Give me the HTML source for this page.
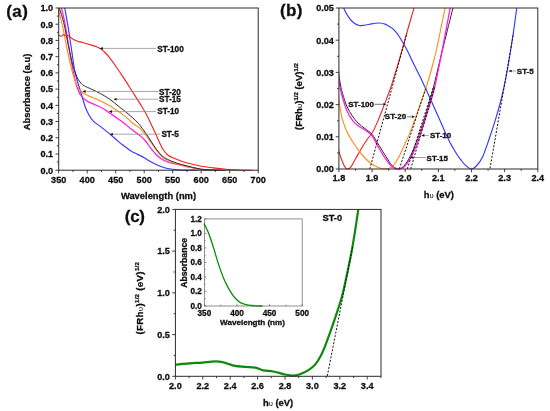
<!DOCTYPE html>
<html><head><meta charset="utf-8"><title>Figure</title>
<style>
html,body{margin:0;padding:0;background:#fff;}
svg{display:block;}
svg text{font-family:"Liberation Sans",sans-serif;fill:#0c0c0c;stroke:#0c0c0c;stroke-width:0.28px;}
</style></head>
<body>
<svg width="550" height="411" viewBox="0 0 550 411">
<defs><filter id="soft" x="0" y="0" width="550" height="411" filterUnits="userSpaceOnUse"><feGaussianBlur stdDeviation="0.38"/></filter></defs>
<rect width="550" height="411" fill="#fff"/>
<g filter="url(#soft)">
<g id="pa">
<clipPath id="ca"><rect x="58.7" y="8.0" width="199.5" height="163.2"/></clipPath>
<g clip-path="url(#ca)">
<path d="M63.80,2.00 C63.97,3.05 64.08,4.15 64.80,8.30 C65.52,12.45 67.00,20.17 68.10,26.90 C69.20,33.63 70.30,41.42 71.40,48.70 C72.50,55.98 73.63,64.97 74.70,70.60 C75.77,76.23 76.67,78.52 77.80,82.50 C78.93,86.48 80.28,90.50 81.50,94.50 C82.72,98.50 83.88,103.13 85.10,106.50 C86.32,109.87 87.43,112.27 88.80,114.70 C90.17,117.13 91.33,119.12 93.30,121.10 C95.27,123.08 97.87,124.47 100.60,126.60 C103.33,128.73 106.97,131.62 109.70,133.90 C112.43,136.18 114.87,138.48 117.00,140.30 C119.13,142.12 120.17,143.02 122.50,144.80 C124.83,146.58 128.83,149.58 131.00,151.00 C133.17,152.42 134.00,152.55 135.50,153.30 C137.00,154.05 138.55,154.77 140.00,155.50 C141.45,156.23 142.70,156.83 144.20,157.70 C145.70,158.57 147.43,159.78 149.00,160.70 C150.57,161.62 152.02,162.40 153.60,163.20 C155.18,164.00 156.92,164.83 158.50,165.50 C160.08,166.17 161.52,166.70 163.10,167.20 C164.68,167.70 166.43,168.15 168.00,168.50 C169.57,168.85 170.83,169.08 172.50,169.30 C174.17,169.52 176.02,169.67 178.00,169.80 C179.98,169.93 181.23,170.03 184.40,170.10 C187.57,170.17 194.90,170.18 197.00,170.20" stroke="#3636ff" stroke-width="1.15" fill="none" stroke-linejoin="round" stroke-linecap="round" />
<path d="M60.60,2.00 C60.77,3.05 60.90,4.88 61.60,8.30 C62.30,11.72 63.72,16.85 64.80,22.50 C65.88,28.15 67.00,35.65 68.10,42.20 C69.20,48.75 70.12,55.00 71.40,61.80 C72.68,68.60 74.70,78.38 75.80,83.00 C76.90,87.62 77.22,87.50 78.00,89.50 C78.78,91.50 79.02,93.08 80.50,95.00 C81.98,96.92 84.47,99.38 86.90,101.00 C89.33,102.62 92.20,103.33 95.10,104.70 C98.00,106.07 101.25,107.38 104.30,109.20 C107.35,111.02 110.37,113.47 113.40,115.60 C116.43,117.73 119.47,119.72 122.50,122.00 C125.53,124.28 128.68,127.03 131.60,129.30 C134.52,131.57 137.68,133.65 140.00,135.60 C142.32,137.55 143.68,138.87 145.50,141.00 C147.32,143.13 149.08,146.12 150.90,148.40 C152.72,150.68 154.57,152.88 156.40,154.70 C158.23,156.52 160.07,158.08 161.90,159.30 C163.73,160.52 164.97,161.18 167.40,162.00 C169.83,162.82 173.17,163.40 176.50,164.20 C179.83,165.00 183.48,165.95 187.40,166.80 C191.32,167.65 196.40,168.77 200.00,169.30 C203.60,169.83 205.67,169.85 209.00,170.00 C212.33,170.15 218.17,170.17 220.00,170.20" stroke="#ff14e6" stroke-width="1.2" fill="none" stroke-linejoin="round" stroke-linecap="round" />
<path d="M57.00,2.00 C57.22,3.05 57.35,4.15 58.30,8.30 C59.25,12.45 61.25,20.17 62.70,26.90 C64.15,33.63 65.55,41.78 67.00,48.70 C68.45,55.62 70.05,63.03 71.40,68.40 C72.75,73.77 74.08,77.88 75.10,80.90 C76.12,83.92 76.60,84.82 77.50,86.50 C78.40,88.18 78.78,89.50 80.50,91.00 C82.22,92.50 85.05,94.13 87.80,95.50 C90.55,96.87 93.95,97.82 97.00,99.20 C100.05,100.58 103.07,102.13 106.10,103.80 C109.13,105.47 112.17,107.23 115.20,109.20 C118.23,111.17 121.25,113.17 124.30,115.60 C127.35,118.03 130.88,121.68 133.50,123.80 C136.12,125.92 138.00,126.48 140.00,128.30 C142.00,130.12 143.68,132.37 145.50,134.70 C147.32,137.03 149.08,139.72 150.90,142.30 C152.72,144.88 154.57,147.82 156.40,150.20 C158.23,152.58 160.07,154.93 161.90,156.60 C163.73,158.27 164.97,158.98 167.40,160.20 C169.83,161.42 173.17,162.83 176.50,163.90 C179.83,164.97 183.45,165.70 187.40,166.60 C191.35,167.50 196.60,168.73 200.20,169.30 C203.80,169.87 205.70,169.85 209.00,170.00 C212.30,170.15 218.17,170.17 220.00,170.20" stroke="#ff8a1a" stroke-width="1.1" fill="none" stroke-linejoin="round" stroke-linecap="round" />
<path d="M58.00,2.00 C58.23,3.05 58.45,4.88 59.40,8.30 C60.35,11.72 62.25,16.50 63.70,22.50 C65.15,28.50 66.63,37.38 68.10,44.30 C69.57,51.22 71.43,59.63 72.50,64.00 C73.57,68.37 73.75,68.33 74.50,70.50 C75.25,72.67 76.08,75.08 77.00,77.00 C77.92,78.92 78.83,80.55 80.00,82.00 C81.17,83.45 82.08,84.50 84.00,85.70 C85.92,86.90 88.73,87.87 91.50,89.20 C94.27,90.53 97.57,92.03 100.60,93.70 C103.63,95.37 106.65,97.07 109.70,99.20 C112.75,101.33 115.85,104.07 118.90,106.50 C121.95,108.93 124.97,111.22 128.00,113.80 C131.03,116.38 135.10,120.05 137.10,122.00 C139.10,123.95 138.60,123.70 140.00,125.50 C141.40,127.30 143.68,130.22 145.50,132.80 C147.32,135.38 149.08,138.25 150.90,141.00 C152.72,143.75 154.57,146.85 156.40,149.30 C158.23,151.75 160.07,154.03 161.90,155.70 C163.73,157.37 164.97,158.08 167.40,159.30 C169.83,160.52 173.17,161.88 176.50,163.00 C179.83,164.12 183.45,165.00 187.40,166.00 C191.35,167.00 195.93,168.33 200.20,169.00 C204.47,169.67 208.87,169.80 213.00,170.00 C217.13,170.20 223.00,170.17 225.00,170.20" stroke="#2a2a2a" stroke-width="1.0" fill="none" stroke-linejoin="round" stroke-linecap="round" />
<path d="M58.80,35.10 C59.23,35.32 60.67,36.47 61.40,36.40 C62.13,36.33 62.52,34.90 63.20,34.70 C63.88,34.50 64.58,34.98 65.50,35.20 C66.42,35.42 67.62,35.45 68.70,36.00 C69.78,36.55 70.63,37.67 72.00,38.50 C73.37,39.33 75.15,40.33 76.90,41.00 C78.65,41.67 80.07,41.82 82.50,42.50 C84.93,43.18 89.25,44.43 91.50,45.10 C93.75,45.77 94.48,45.88 96.00,46.50 C97.52,47.12 99.10,47.80 100.60,48.80 C102.10,49.80 103.48,50.98 105.00,52.50 C106.52,54.02 107.70,55.32 109.70,57.90 C111.70,60.48 114.57,64.50 117.00,68.00 C119.43,71.50 121.80,75.07 124.30,78.90 C126.80,82.73 129.38,86.88 132.00,91.00 C134.62,95.12 137.75,99.97 140.00,103.60 C142.25,107.23 143.68,109.45 145.50,112.80 C147.32,116.15 149.23,120.25 150.90,123.70 C152.57,127.15 153.67,129.55 155.50,133.50 C157.33,137.45 159.92,143.87 161.90,147.40 C163.88,150.93 164.97,152.72 167.40,154.70 C169.83,156.68 173.17,157.92 176.50,159.30 C179.83,160.68 183.45,161.88 187.40,163.00 C191.35,164.12 195.93,165.18 200.20,166.00 C204.47,166.82 208.73,167.35 213.00,167.90 C217.27,168.45 221.30,168.95 225.80,169.30 C230.30,169.65 235.63,169.85 240.00,170.00 C244.37,170.15 250.00,170.17 252.00,170.20" stroke="#f02020" stroke-width="1.1" fill="none" stroke-linejoin="round" stroke-linecap="round" />
</g>
<rect x="58.7" y="8.0" width="199.50" height="162.20" fill="none" stroke="#2b2b2b" stroke-width="1.0"/>
<path d="M58.70,170.2v3.2M87.20,170.2v3.2M115.70,170.2v3.2M144.20,170.2v3.2M172.70,170.2v3.2M201.20,170.2v3.2M229.70,170.2v3.2M258.20,170.2v3.2" stroke="#2b2b2b" stroke-width="0.9" fill="none"/>
<path d="M72.95,170.2v1.8M101.45,170.2v1.8M129.95,170.2v1.8M158.45,170.2v1.8M186.95,170.2v1.8M215.45,170.2v1.8M243.95,170.2v1.8" stroke="#2b2b2b" stroke-width="0.9" fill="none"/>
<path d="M58.7,170.20h-3.2M58.7,153.98h-3.2M58.7,137.76h-3.2M58.7,121.54h-3.2M58.7,105.32h-3.2M58.7,89.10h-3.2M58.7,72.88h-3.2M58.7,56.66h-3.2M58.7,40.44h-3.2M58.7,24.22h-3.2M58.7,8.00h-3.2" stroke="#2b2b2b" stroke-width="0.9" fill="none"/>
<path d="M58.7,162.09h-1.8M58.7,145.87h-1.8M58.7,129.65h-1.8M58.7,113.43h-1.8M58.7,97.21h-1.8M58.7,80.99h-1.8M58.7,64.77h-1.8M58.7,48.55h-1.8M58.7,32.33h-1.8M58.7,16.11h-1.8" stroke="#2b2b2b" stroke-width="0.9" fill="none"/>
<text x="58.70" y="183.00" font-size="9.1" text-anchor="middle" font-weight="bold" >350</text>
<text x="87.20" y="183.00" font-size="9.1" text-anchor="middle" font-weight="bold" >400</text>
<text x="115.70" y="183.00" font-size="9.1" text-anchor="middle" font-weight="bold" >450</text>
<text x="144.20" y="183.00" font-size="9.1" text-anchor="middle" font-weight="bold" >500</text>
<text x="172.70" y="183.00" font-size="9.1" text-anchor="middle" font-weight="bold" >550</text>
<text x="201.20" y="183.00" font-size="9.1" text-anchor="middle" font-weight="bold" >600</text>
<text x="229.70" y="183.00" font-size="9.1" text-anchor="middle" font-weight="bold" >650</text>
<text x="258.20" y="183.00" font-size="9.1" text-anchor="middle" font-weight="bold" >700</text>
<text x="53.20" y="173.50" font-size="9.1" text-anchor="end" font-weight="bold" >0.0</text>
<text x="53.20" y="157.28" font-size="9.1" text-anchor="end" font-weight="bold" >0.1</text>
<text x="53.20" y="141.06" font-size="9.1" text-anchor="end" font-weight="bold" >0.2</text>
<text x="53.20" y="124.84" font-size="9.1" text-anchor="end" font-weight="bold" >0.3</text>
<text x="53.20" y="108.62" font-size="9.1" text-anchor="end" font-weight="bold" >0.4</text>
<text x="53.20" y="92.40" font-size="9.1" text-anchor="end" font-weight="bold" >0.5</text>
<text x="53.20" y="76.18" font-size="9.1" text-anchor="end" font-weight="bold" >0.6</text>
<text x="53.20" y="59.96" font-size="9.1" text-anchor="end" font-weight="bold" >0.7</text>
<text x="53.20" y="43.74" font-size="9.1" text-anchor="end" font-weight="bold" >0.8</text>
<text x="53.20" y="27.52" font-size="9.1" text-anchor="end" font-weight="bold" >0.9</text>
<text x="53.20" y="11.30" font-size="9.1" text-anchor="end" font-weight="bold" >1.0</text>
<text x="158.50" y="198.60" font-size="9.4" text-anchor="middle" font-weight="bold" >Wavelength (nm)</text>
<text transform="translate(29.8,92) rotate(-90)" font-size="9.4" text-anchor="middle" font-weight="bold">Absorbance (a.u)</text>
<line x1="100.7" y1="48.4" x2="156" y2="48.4" stroke="#909090" stroke-width="0.8"/>
<path d="M99.7,48.4 l3.2,-1.3 v2.6 z" fill="#111"/>
<text x="157.30" y="52.40" font-size="8.2" text-anchor="start" font-weight="bold" >ST-100</text>
<line x1="83.4" y1="91.4" x2="158" y2="91.4" stroke="#909090" stroke-width="0.8"/>
<path d="M82.4,91.4 l3.2,-1.3 v2.6 z" fill="#111"/>
<text x="159.00" y="94.60" font-size="8.2" text-anchor="start" font-weight="bold" >ST-20</text>
<line x1="114.4" y1="99.2" x2="158" y2="99.2" stroke="#909090" stroke-width="0.8"/>
<path d="M113.4,99.2 l3.2,-1.3 v2.6 z" fill="#111"/>
<text x="159.00" y="102.30" font-size="8.2" text-anchor="start" font-weight="bold" >ST-15</text>
<line x1="109.8" y1="111.6" x2="156" y2="111.6" stroke="#909090" stroke-width="0.8"/>
<path d="M108.8,111.6 l3.2,-1.3 v2.6 z" fill="#111"/>
<text x="157.30" y="114.40" font-size="8.2" text-anchor="start" font-weight="bold" >ST-10</text>
<line x1="110.7" y1="134.2" x2="160" y2="134.2" stroke="#909090" stroke-width="0.8"/>
<path d="M109.7,134.2 l3.2,-1.3 v2.6 z" fill="#111"/>
<text x="161.40" y="136.60" font-size="8.2" text-anchor="start" font-weight="bold" >ST-5</text>
</g>
<g id="pb">
<clipPath id="cb"><rect x="338.9" y="8.0" width="198.89999999999998" height="162.0"/></clipPath>
<g clip-path="url(#cb)">
<path d="M341.50,1.00 C341.83,2.12 342.23,4.88 343.50,7.70 C344.77,10.52 347.35,15.35 349.10,17.90 C350.85,20.45 352.30,21.73 354.00,23.00 C355.70,24.27 357.63,25.13 359.30,25.50 C360.97,25.87 362.30,25.40 364.00,25.20 C365.70,25.00 367.67,24.62 369.50,24.30 C371.33,23.98 373.28,23.52 375.00,23.30 C376.72,23.08 378.13,22.87 379.80,23.00 C381.47,23.13 383.38,23.52 385.00,24.10 C386.62,24.68 388.03,25.58 389.50,26.50 C390.97,27.42 392.30,28.10 393.80,29.60 C395.30,31.10 396.87,33.13 398.50,35.50 C400.13,37.87 401.93,40.88 403.60,43.80 C405.27,46.72 406.85,49.70 408.50,53.00 C410.15,56.30 411.67,59.85 413.50,63.60 C415.33,67.35 417.58,71.57 419.50,75.50 C421.42,79.43 423.08,83.07 425.00,87.20 C426.92,91.33 428.53,94.83 431.00,100.30 C433.47,105.77 436.87,113.42 439.80,120.00 C442.73,126.58 446.33,135.05 448.60,139.80 C450.87,144.55 451.95,145.97 453.40,148.50 C454.85,151.03 456.02,153.05 457.30,155.00 C458.58,156.95 459.62,158.37 461.10,160.20 C462.58,162.03 464.50,164.53 466.20,166.00 C467.90,167.47 469.60,169.00 471.30,169.00 C473.00,169.00 474.48,168.10 476.40,166.00 C478.32,163.90 480.67,160.93 482.80,156.40 C484.93,151.87 487.07,145.00 489.20,138.80 C491.33,132.60 493.55,126.00 495.60,119.20 C497.65,112.40 499.58,105.95 501.50,98.00 C503.42,90.05 505.18,82.00 507.10,71.50 C509.02,61.00 511.38,45.63 513.00,35.00 C514.62,24.37 516.00,13.37 516.80,7.70 C517.60,2.03 517.63,2.12 517.80,1.00" stroke="#3636ff" stroke-width="1.15" fill="none" stroke-linejoin="round" stroke-linecap="round" />
<path d="M337.50,145.00 C337.78,146.23 338.35,149.53 339.20,152.40 C340.05,155.27 341.57,159.67 342.60,162.20 C343.63,164.73 344.50,166.47 345.40,167.60 C346.30,168.73 347.03,169.20 348.00,169.00 C348.97,168.80 349.92,168.15 351.20,166.40 C352.48,164.65 353.97,161.53 355.70,158.50 C357.43,155.47 359.73,151.32 361.60,148.20 C363.47,145.08 365.13,142.37 366.90,139.80 C368.67,137.23 370.42,135.83 372.20,132.80 C373.98,129.77 375.77,125.80 377.60,121.60 C379.43,117.40 381.33,112.37 383.20,107.60 C385.07,102.83 387.40,96.77 388.80,93.00 C390.20,89.23 390.50,88.42 391.60,85.00 C392.70,81.58 394.10,76.75 395.40,72.50 C396.70,68.25 397.43,66.33 399.40,59.50 C401.37,52.67 404.78,40.03 407.20,31.50 C409.62,22.97 412.43,13.38 413.90,8.30 C415.37,3.22 415.65,2.22 416.00,1.00" stroke="#f02020" stroke-width="1.1" fill="none" stroke-linejoin="round" stroke-linecap="round" />
<path d="M338.20,92.00 C338.37,93.67 338.77,98.67 339.20,102.00 C339.63,105.33 340.23,108.97 340.80,112.00 C341.37,115.03 341.60,116.97 342.60,120.20 C343.60,123.43 345.17,127.90 346.80,131.40 C348.43,134.90 350.53,138.17 352.40,141.20 C354.27,144.23 355.90,146.80 358.00,149.60 C360.10,152.40 362.67,155.57 365.00,158.00 C367.33,160.43 369.67,162.57 372.00,164.20 C374.33,165.83 377.13,167.05 379.00,167.80 C380.87,168.55 381.65,168.57 383.20,168.70 C384.75,168.83 387.00,168.82 388.30,168.60 C389.60,168.38 390.08,168.00 391.00,167.40 C391.92,166.80 392.43,166.85 393.80,165.00 C395.17,163.15 397.38,159.77 399.20,156.30 C401.02,152.83 403.05,147.75 404.70,144.20 C406.35,140.65 407.70,138.28 409.10,135.00 C410.50,131.72 411.27,129.58 413.10,124.50 C414.93,119.42 417.85,110.92 420.10,104.50 C422.35,98.08 424.65,92.08 426.60,86.00 C428.55,79.92 430.17,74.00 431.80,68.00 C433.43,62.00 434.60,58.00 436.40,50.00 C438.20,42.00 441.15,26.95 442.60,20.00 C444.05,13.05 444.43,11.47 445.10,8.30 C445.77,5.13 446.35,2.22 446.60,1.00" stroke="#ff8a1a" stroke-width="1.1" fill="none" stroke-linejoin="round" stroke-linecap="round" />
<path d="M338.40,68.00 C338.53,69.47 338.82,73.80 339.20,76.80 C339.58,79.80 340.13,83.20 340.70,86.00 C341.27,88.80 341.58,90.23 342.60,93.60 C343.62,96.97 345.17,102.47 346.80,106.20 C348.43,109.93 350.53,113.20 352.40,116.00 C354.27,118.80 355.90,120.90 358.00,123.00 C360.10,125.10 362.67,126.73 365.00,128.60 C367.33,130.47 369.67,131.40 372.00,134.20 C374.33,137.00 376.67,141.67 379.00,145.40 C381.33,149.13 383.90,153.33 386.00,156.60 C388.10,159.87 390.02,163.10 391.60,165.00 C393.18,166.90 394.23,167.35 395.50,168.00 C396.77,168.65 398.12,168.97 399.20,168.90 C400.28,168.83 401.08,168.25 402.00,167.60 C402.92,166.95 403.52,166.53 404.70,165.00 C405.88,163.47 407.82,160.58 409.10,158.40 C410.38,156.22 411.32,154.27 412.40,151.90 C413.48,149.53 414.52,146.93 415.60,144.20 C416.68,141.47 417.37,139.95 418.90,135.50 C420.43,131.05 422.92,123.42 424.80,117.50 C426.68,111.58 428.67,105.42 430.20,100.00 C431.73,94.58 431.83,93.83 434.00,85.00 C436.17,76.17 440.05,59.78 443.20,47.00 C446.35,34.22 450.97,15.97 452.90,8.30 C454.83,0.63 454.48,2.22 454.80,1.00" stroke="#2a2a2a" stroke-width="1.0" fill="none" stroke-linejoin="round" stroke-linecap="round" />
<path d="M338.40,74.00 C338.53,75.40 338.82,79.65 339.20,82.40 C339.58,85.15 340.13,87.93 340.70,90.50 C341.27,93.07 341.58,94.48 342.60,97.80 C343.62,101.12 345.17,106.67 346.80,110.40 C348.43,114.13 350.53,117.63 352.40,120.20 C354.27,122.77 355.90,124.17 358.00,125.80 C360.10,127.43 362.67,128.37 365.00,130.00 C367.33,131.63 369.67,132.57 372.00,135.60 C374.33,138.63 376.67,144.23 379.00,148.20 C381.33,152.17 383.90,156.37 386.00,159.40 C388.10,162.43 390.10,164.87 391.60,166.40 C393.10,167.93 393.90,168.17 395.00,168.60 C396.10,169.03 396.95,169.10 398.20,169.00 C399.45,168.90 401.23,168.67 402.50,168.00 C403.77,167.33 404.52,166.60 405.80,165.00 C407.08,163.40 408.88,160.58 410.20,158.40 C411.52,156.22 412.58,154.27 413.70,151.90 C414.82,149.53 415.85,146.93 416.90,144.20 C417.95,141.47 418.52,139.95 420.00,135.50 C421.48,131.05 423.93,123.42 425.80,117.50 C427.67,111.58 429.67,105.23 431.20,100.00 C432.73,94.77 433.07,94.93 435.00,86.10 C436.93,77.27 440.28,59.97 442.80,47.00 C445.32,34.03 448.65,15.97 450.10,8.30 C451.55,0.63 451.27,2.22 451.50,1.00" stroke="#ff14e6" stroke-width="1.25" fill="none" stroke-linejoin="round" stroke-linecap="round" />
<line x1="369.8" y1="169" x2="407.0" y2="33" stroke="#111" stroke-width="1.0" stroke-dasharray="2,1.6"/>
<line x1="399.3" y1="168.9" x2="425.8" y2="88.3" stroke="#111" stroke-width="1.0" stroke-dasharray="2,1.6"/>
<line x1="407.3" y1="168.9" x2="433.8" y2="86" stroke="#111" stroke-width="1.0" stroke-dasharray="2,1.6"/>
<line x1="410.7" y1="168.9" x2="435.0" y2="86" stroke="#111" stroke-width="1.0" stroke-dasharray="2,1.6"/>
<line x1="490.0" y1="168.5" x2="513.5" y2="33.2" stroke="#111" stroke-width="1.0" stroke-dasharray="2,1.6"/>
</g>
<rect x="338.9" y="8.0" width="198.90" height="161.00" fill="none" stroke="#2b2b2b" stroke-width="1.0"/>
<path d="M338.90,169.0v3.2M372.05,169.0v3.2M405.20,169.0v3.2M438.35,169.0v3.2M471.50,169.0v3.2M504.65,169.0v3.2M537.80,169.0v3.2" stroke="#2b2b2b" stroke-width="0.9" fill="none"/>
<path d="M355.47,169.0v1.8M388.62,169.0v1.8M421.77,169.0v1.8M454.92,169.0v1.8M488.07,169.0v1.8M521.22,169.0v1.8" stroke="#2b2b2b" stroke-width="0.9" fill="none"/>
<path d="M338.9,169.00h-3.2M338.9,136.80h-3.2M338.9,104.60h-3.2M338.9,72.40h-3.2M338.9,40.20h-3.2M338.9,8.00h-3.2" stroke="#2b2b2b" stroke-width="0.9" fill="none"/>
<path d="M338.9,152.90h-1.8M338.9,120.70h-1.8M338.9,88.50h-1.8M338.9,56.30h-1.8M338.9,24.10h-1.8" stroke="#2b2b2b" stroke-width="0.9" fill="none"/>
<text x="338.90" y="180.60" font-size="9.1" text-anchor="middle" font-weight="bold" >1.8</text>
<text x="372.05" y="180.60" font-size="9.1" text-anchor="middle" font-weight="bold" >1.9</text>
<text x="405.20" y="180.60" font-size="9.1" text-anchor="middle" font-weight="bold" >2.0</text>
<text x="438.35" y="180.60" font-size="9.1" text-anchor="middle" font-weight="bold" >2.1</text>
<text x="471.50" y="180.60" font-size="9.1" text-anchor="middle" font-weight="bold" >2.2</text>
<text x="504.65" y="180.60" font-size="9.1" text-anchor="middle" font-weight="bold" >2.3</text>
<text x="537.80" y="180.60" font-size="9.1" text-anchor="middle" font-weight="bold" >2.4</text>
<text x="333.90" y="172.30" font-size="9.1" text-anchor="end" font-weight="bold" >0.00</text>
<text x="333.90" y="140.10" font-size="9.1" text-anchor="end" font-weight="bold" >0.01</text>
<text x="333.90" y="107.90" font-size="9.1" text-anchor="end" font-weight="bold" >0.02</text>
<text x="333.90" y="75.70" font-size="9.1" text-anchor="end" font-weight="bold" >0.03</text>
<text x="333.90" y="43.50" font-size="9.1" text-anchor="end" font-weight="bold" >0.04</text>
<text x="333.90" y="11.30" font-size="9.1" text-anchor="end" font-weight="bold" >0.05</text>
<text x="438.8" y="198.0" font-size="9.4" text-anchor="middle" font-weight="bold">h<tspan font-weight="normal" stroke-width="0" font-size="7.6">υ</tspan> (eV)</text>
<text transform="translate(302.1,96.5) rotate(-90)" font-size="9.6" text-anchor="middle" font-weight="bold">(FRh<tspan font-weight="normal" stroke-width="0" font-size="7.8">υ</tspan>)<tspan dy="-3.9" font-size="6">1/2</tspan><tspan dy="3.9"> (eV)</tspan><tspan dy="-3.9" font-size="6">1/2</tspan></text>
<text x="374.00" y="107.30" font-size="8" text-anchor="end" font-weight="bold" >ST-100</text>
<line x1="374.5" y1="104.3" x2="383" y2="104.3" stroke="#555" stroke-width="0.8"/><path d="M386.5,104.3 l-3.2,-1.3 v2.6 z" fill="#111"/>
<text x="384.80" y="119.10" font-size="8" text-anchor="start" font-weight="bold" >ST-20</text>
<line x1="407" y1="116.8" x2="411.5" y2="116.8" stroke="#555" stroke-width="0.8"/><path d="M415,116.8 l-3.2,-1.3 v2.6 z" fill="#111"/>
<line x1="422.2" y1="135.4" x2="429" y2="135.4" stroke="#909090" stroke-width="0.8"/>
<path d="M421.2,135.4 l3.2,-1.3 v2.6 z" fill="#111"/>
<text x="429.90" y="138.30" font-size="8" text-anchor="start" font-weight="bold" >ST-10</text>
<line x1="411.2" y1="157.5" x2="425.8" y2="157.5" stroke="#888" stroke-width="0.8"/>
<path d="M410.2,157.5 l3.2,-1.3 v2.6 z" fill="#111"/>
<text x="426.60" y="160.80" font-size="8" text-anchor="start" font-weight="bold" >ST-15</text>
<line x1="509.4" y1="71" x2="516" y2="71" stroke="#909090" stroke-width="0.8"/>
<path d="M508.4,71 l3.2,-1.3 v2.6 z" fill="#111"/>
<text x="516.80" y="73.90" font-size="8" text-anchor="start" font-weight="bold" >ST-5</text>
</g>
<g id="pc">
<clipPath id="cc"><rect x="175.4" y="209.4" width="205.6" height="168.9"/></clipPath>
<g clip-path="url(#cc)">
<path d="M173.00,364.80 C173.40,364.77 172.67,364.83 175.40,364.60 C178.13,364.37 184.93,363.73 189.40,363.40 C193.87,363.07 198.85,362.85 202.20,362.60 C205.55,362.35 207.17,362.10 209.50,361.90 C211.83,361.70 214.03,361.35 216.20,361.40 C218.37,361.45 220.58,361.82 222.50,362.20 C224.42,362.58 225.62,363.08 227.70,363.70 C229.78,364.32 232.08,365.37 235.00,365.90 C237.92,366.43 241.80,366.60 245.20,366.90 C248.60,367.20 252.42,367.13 255.40,367.70 C258.38,368.27 260.12,369.67 263.10,370.30 C266.08,370.93 269.90,370.87 273.30,371.50 C276.70,372.13 280.30,373.42 283.50,374.10 C286.70,374.78 289.75,375.57 292.50,375.60 C295.25,375.63 297.28,375.25 300.00,374.30 C302.72,373.35 306.25,371.55 308.80,369.90 C311.35,368.25 313.30,366.77 315.30,364.40 C317.30,362.03 319.15,358.80 320.80,355.70 C322.45,352.60 323.73,349.45 325.20,345.80 C326.67,342.15 328.15,337.82 329.60,333.80 C331.05,329.78 332.47,325.90 333.90,321.70 C335.33,317.50 336.88,312.72 338.20,308.60 C339.52,304.48 340.67,301.18 341.80,297.00 C342.93,292.82 343.92,288.33 345.00,283.50 C346.08,278.67 347.18,273.42 348.30,268.00 C349.42,262.58 350.58,257.12 351.70,251.00 C352.82,244.88 353.90,238.23 355.00,231.30 C356.10,224.37 357.55,214.45 358.30,209.40 C359.05,204.35 359.30,202.40 359.50,201.00" stroke="#0c8a0c" stroke-width="2.2" fill="none" stroke-linejoin="round" stroke-linecap="round" />
<line x1="327.3" y1="376" x2="352.6" y2="247" stroke="#111" stroke-width="1.0" stroke-dasharray="2,1.6"/>
</g>
<rect x="175.4" y="209.4" width="205.60" height="166.90" fill="none" stroke="#2b2b2b" stroke-width="1.0"/>
<path d="M175.40,376.3v3.2M202.80,376.3v3.2M230.20,376.3v3.2M257.60,376.3v3.2M285.00,376.3v3.2M312.40,376.3v3.2M339.80,376.3v3.2M367.20,376.3v3.2" stroke="#2b2b2b" stroke-width="0.9" fill="none"/>
<path d="M189.10,376.3v1.8M216.50,376.3v1.8M243.90,376.3v1.8M271.30,376.3v1.8M298.70,376.3v1.8M326.10,376.3v1.8M353.50,376.3v1.8M380.90,376.3v1.8" stroke="#2b2b2b" stroke-width="0.9" fill="none"/>
<path d="M175.4,376.30h-3.2M175.4,334.57h-3.2M175.4,292.85h-3.2M175.4,251.12h-3.2M175.4,209.40h-3.2" stroke="#2b2b2b" stroke-width="0.9" fill="none"/>
<path d="M175.4,355.44h-1.8M175.4,313.71h-1.8M175.4,271.99h-1.8M175.4,230.26h-1.8" stroke="#2b2b2b" stroke-width="0.9" fill="none"/>
<text x="175.40" y="389.20" font-size="9.1" text-anchor="middle" font-weight="bold" >2.0</text>
<text x="202.80" y="389.20" font-size="9.1" text-anchor="middle" font-weight="bold" >2.2</text>
<text x="230.20" y="389.20" font-size="9.1" text-anchor="middle" font-weight="bold" >2.4</text>
<text x="257.60" y="389.20" font-size="9.1" text-anchor="middle" font-weight="bold" >2.6</text>
<text x="285.00" y="389.20" font-size="9.1" text-anchor="middle" font-weight="bold" >2.8</text>
<text x="312.40" y="389.20" font-size="9.1" text-anchor="middle" font-weight="bold" >3.0</text>
<text x="339.80" y="389.20" font-size="9.1" text-anchor="middle" font-weight="bold" >3.2</text>
<text x="367.20" y="389.20" font-size="9.1" text-anchor="middle" font-weight="bold" >3.4</text>
<text x="169.90" y="379.60" font-size="9.1" text-anchor="end" font-weight="bold" >0.0</text>
<text x="169.90" y="337.88" font-size="9.1" text-anchor="end" font-weight="bold" >0.5</text>
<text x="169.90" y="296.15" font-size="9.1" text-anchor="end" font-weight="bold" >1.0</text>
<text x="169.90" y="254.43" font-size="9.1" text-anchor="end" font-weight="bold" >1.5</text>
<text x="169.90" y="212.70" font-size="9.1" text-anchor="end" font-weight="bold" >2.0</text>
<text x="278.0" y="406.2" font-size="9.4" text-anchor="middle" font-weight="bold">h<tspan font-weight="normal" stroke-width="0" font-size="7.6">υ</tspan> (eV)</text>
<text transform="translate(143.2,298.2) rotate(-90)" font-size="9.8" letter-spacing="0.28" text-anchor="middle" font-weight="bold">(FRh<tspan font-weight="normal" stroke-width="0" font-size="7.9">υ</tspan>)<tspan dy="-4" font-size="6.1">1/2</tspan><tspan dy="4"> (eV)</tspan><tspan dy="-4" font-size="6.1">1/2</tspan></text>
<text x="322.40" y="220.90" font-size="9.4" text-anchor="start" font-weight="bold" >ST-0</text>
<rect x="204.4" y="218.9" width="97.80" height="87.10" fill="#fff" stroke="#808080" stroke-width="0.9"/>
<path d="M204.20,224.00 C204.58,224.75 205.67,226.70 206.50,228.50 C207.33,230.30 208.02,231.55 209.20,234.80 C210.38,238.05 212.13,243.37 213.60,248.00 C215.07,252.63 216.30,257.48 218.00,262.60 C219.70,267.72 221.85,274.08 223.80,278.70 C225.75,283.32 227.75,287.00 229.70,290.30 C231.65,293.60 233.55,296.37 235.50,298.50 C237.45,300.63 239.20,301.98 241.40,303.10 C243.60,304.22 246.43,304.75 248.70,305.20 C250.97,305.65 252.78,305.67 255.00,305.80 C257.22,305.93 260.83,305.97 262.00,306.00" stroke="#0c8a0c" stroke-width="1.3" fill="none" stroke-linejoin="round" stroke-linecap="round" />
<path d="M204.40,306.0v-2.2M237.00,306.0v-2.2M269.60,306.0v-2.2M302.20,306.0v-2.2" stroke="#666" stroke-width="0.7" fill="none"/>
<path d="M220.70,306.0v-1.3M253.30,306.0v-1.3M285.90,306.0v-1.3" stroke="#666" stroke-width="0.7" fill="none"/>
<path d="M204.4,306.00h2.2M204.4,291.48h2.2M204.4,276.97h2.2M204.4,262.45h2.2M204.4,247.93h2.2M204.4,233.42h2.2M204.4,218.90h2.2" stroke="#666" stroke-width="0.7" fill="none"/>
<path d="M204.4,298.74h1.3M204.4,284.23h1.3M204.4,269.71h1.3M204.4,255.19h1.3M204.4,240.68h1.3M204.4,226.16h1.3" stroke="#666" stroke-width="0.7" fill="none"/>
<text x="204.40" y="315.80" font-size="8.2" text-anchor="middle" font-weight="bold" >350</text>
<text x="237.00" y="315.80" font-size="8.2" text-anchor="middle" font-weight="bold" >400</text>
<text x="269.60" y="315.80" font-size="8.2" text-anchor="middle" font-weight="bold" >450</text>
<text x="302.20" y="315.80" font-size="8.2" text-anchor="middle" font-weight="bold" >500</text>
<text x="201.80" y="308.95" font-size="8.2" text-anchor="end" font-weight="bold" >0.0</text>
<text x="201.80" y="294.43" font-size="8.2" text-anchor="end" font-weight="bold" >0.2</text>
<text x="201.80" y="279.92" font-size="8.2" text-anchor="end" font-weight="bold" >0.4</text>
<text x="201.80" y="265.40" font-size="8.2" text-anchor="end" font-weight="bold" >0.6</text>
<text x="201.80" y="250.88" font-size="8.2" text-anchor="end" font-weight="bold" >0.8</text>
<text x="201.80" y="236.37" font-size="8.2" text-anchor="end" font-weight="bold" >1.0</text>
<text x="201.80" y="221.85" font-size="8.2" text-anchor="end" font-weight="bold" >1.2</text>
<text x="252.50" y="325.40" font-size="8.1" text-anchor="middle" font-weight="bold" >Wavelength (nm)</text>
<text transform="translate(187.4,262.9) rotate(-90)" font-size="8.6" text-anchor="middle" font-weight="bold">Absorbance</text>
</g>
<g font-size="17" font-weight="bold" fill="#000">
<text x="6.3" y="17.3" letter-spacing="0.4">(a)</text>
<text x="280.0" y="15.6" letter-spacing="0.4">(b)</text>
<text x="124.8" y="221.7" letter-spacing="-0.3">(c)</text>
</g>
</g>
</svg>
</body></html>
